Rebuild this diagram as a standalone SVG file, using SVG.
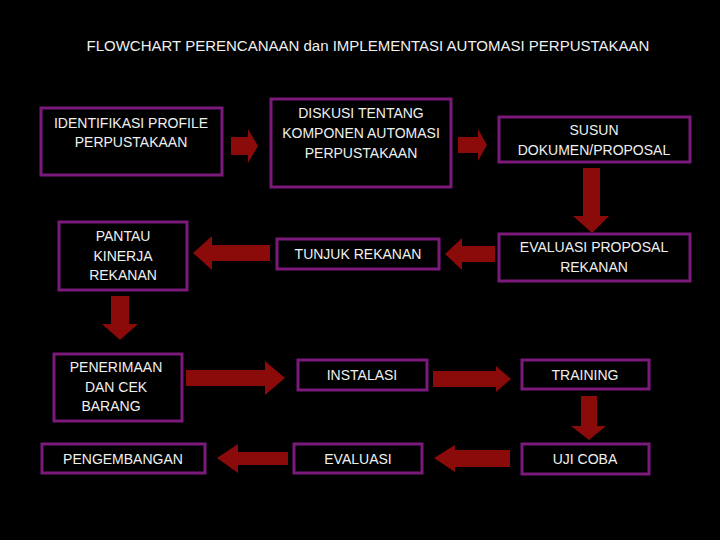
<svg xmlns="http://www.w3.org/2000/svg" width="720" height="540" viewBox="0 0 720 540">
<style>
.b{fill:#000;stroke:#7b1a7b;stroke-width:3}
.t{fill:#f0f0f0;font-family:"Liberation Sans",Arial,sans-serif;font-size:14px;text-anchor:middle}
.a{fill:#8b0a0a}
</style>
<rect width="720" height="540" fill="#000"/>
<text x="368" y="51" class="t" style="font-size:15px">FLOWCHART PERENCANAAN dan IMPLEMENTASI AUTOMASI PERPUSTAKAAN</text>
<g id="connectors">
<path class="a" d="M231,137 H248 V129 L258,146 L248,163 V155 H231 Z"/>
<path class="a" d="M458,137 H478 V129 L487,145 L478,161 V153 H458 Z"/>
<path class="a" d="M583,168 V216 H573 L592,233 L609,216 H600 V168 Z"/>
<path class="a" d="M495,246 H462 V238 L445,254 L462,270 V262 H495 Z"/>
<path class="a" d="M270,245 H212 V236 L193,253 L212,270 V261 H270 Z"/>
<path class="a" d="M111,296 V324 H102 L120,340 L138,324 H129 V296 Z"/>
<path class="a" d="M186,370 H265 V361 L285,378 L265,395 V386 H186 Z"/>
<path class="a" d="M433,371 H496 V366 L511,379 L496,392 V387 H433 Z"/>
<path class="a" d="M581,396 V426 H571 L589,440 L606,426 H597 V396 Z"/>
<path class="a" d="M510,450 H455 V445 L434,458 L455,472 V467 H510 Z"/>
<path class="a" d="M288,452 H238 V444 L217,458 L238,473 V465 H288 Z"/>
</g>
<g id="n1"><rect class="b" x="41" y="108" width="181" height="67"/><text class="t" x="131" y="128">IDENTIFIKASI PROFILE</text><text class="t" x="131" y="147">PERPUSTAKAAN</text></g>
<g id="n2"><rect class="b" x="271" y="99" width="180" height="88"/><text class="t" x="361" y="118">DISKUSI TENTANG</text><text class="t" x="361" y="138">KOMPONEN AUTOMASI</text><text class="t" x="361" y="158">PERPUSTAKAAN</text></g>
<g id="n3"><rect class="b" x="499" y="117" width="191" height="45"/><text class="t" x="594" y="135">SUSUN</text><text class="t" x="594" y="155">DOKUMEN/PROPOSAL</text></g>
<g id="n4"><rect class="b" x="499" y="234" width="191" height="47"/><text class="t" x="594" y="252">EVALUASI PROPOSAL</text><text class="t" x="594" y="272">REKANAN</text></g>
<g id="n5"><rect class="b" x="277" y="239" width="162" height="30"/><text class="t" x="358" y="259">TUNJUK REKANAN</text></g>
<g id="n6"><rect class="b" x="59" y="222" width="128" height="68"/><text class="t" x="123" y="241">PANTAU</text><text class="t" x="123" y="261">KINERJA</text><text class="t" x="123" y="280">REKANAN</text></g>
<g id="n7"><rect class="b" x="54" y="354" width="128" height="67"/><text class="t" x="116" y="372">PENERIMAAN</text><text class="t" x="116" y="392">DAN CEK</text><text class="t" x="111" y="411">BARANG</text></g>
<g id="n8"><rect class="b" x="298" y="360" width="129" height="30"/><text class="t" x="362" y="380">INSTALASI</text></g>
<g id="n9"><rect class="b" x="522" y="360" width="127" height="29"/><text class="t" x="585" y="380">TRAINING</text></g>
<g id="n10"><rect class="b" x="42" y="444" width="163" height="29"/><text class="t" x="123" y="464">PENGEMBANGAN</text></g>
<g id="n11"><rect class="b" x="294" y="444" width="128" height="29"/><text class="t" x="358" y="464">EVALUASI</text></g>
<g id="n12"><rect class="b" x="522" y="444" width="127" height="30"/><text class="t" x="585" y="464">UJI COBA</text></g>
</svg>
